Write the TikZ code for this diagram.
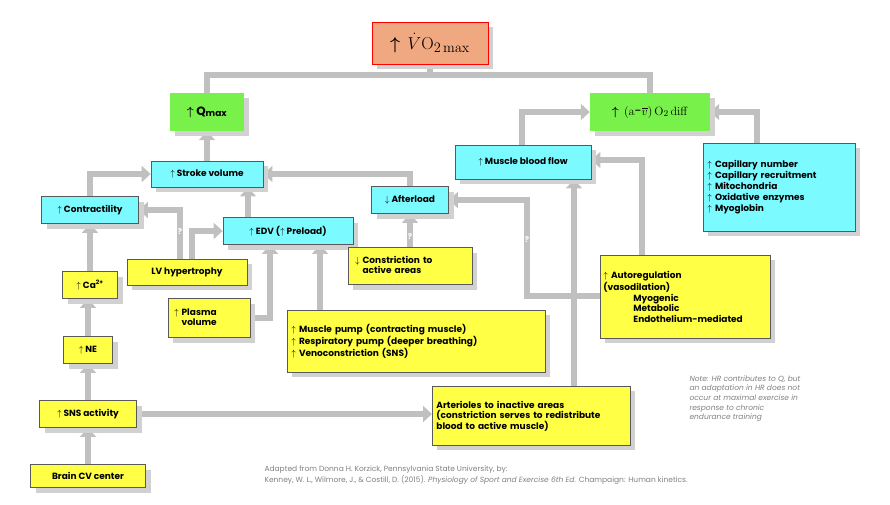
\documentclass[tikz,border=0pt]{standalone}
\usepackage[no-math]{fontspec}
\setmainfont{Poppins}
\usepackage{amsmath,amssymb}
\usetikzlibrary{arrows.meta,shadows,backgrounds}
\definecolor{conn}{HTML}{C0C0C0}
\definecolor{cy}{HTML}{7BFBFF}
\definecolor{yl}{HTML}{FFFF45}
\definecolor{gr}{HTML}{78F24A}
\definecolor{org}{HTML}{F0A880}
\newcommand{\upa}{$\uparrow$}
\newcommand{\dna}{$\downarrow$}
\tikzset{
  box/.style={draw=black!65,line width=0.8pt,inner sep=2pt,font=\bfseries\fontsize{9}{10.5}\selectfont,align=left,
    drop shadow={shadow xshift=5pt,shadow yshift=-5pt,fill=black!18,opacity=1}},
  cyb/.style={box,fill=cy},
  ylb/.style={box,fill=yl},
  grb/.style={fill=gr,inner sep=3pt,drop shadow={shadow xshift=5pt,shadow yshift=-5pt,fill=black!18,opacity=1}},
  con/.style={draw=conn,line width=6pt},
  arr/.style={con,-{Triangle[length=9pt,width=16pt]}},
  q/.style={font=\bfseries\fontsize{8}{8}\selectfont,text=white,inner sep=0pt}
}
\begin{document}
\begin{tikzpicture}[x=1pt,y=-1pt]
\useasboundingbox (0,0) rectangle (890,504);
% nodes
\node[fill=org,draw=red,line width=0.8pt,minimum width=116pt,minimum height=42pt,
  drop shadow={shadow xshift=5pt,shadow yshift=-5pt,fill=black!18,opacity=1}] (vo) at (430,43) {\fontsize{19}{20}\selectfont $\boldsymbol{\uparrow}\,\dot{V}\mathrm{O}_{2\,\mathrm{max}}$};
\node[grb,minimum width=74pt,minimum height=38pt] (q) at (207,112) {\bfseries\fontsize{12}{12}\selectfont $\boldsymbol\uparrow$ Q\textsubscript{\fontsize{9}{9}\selectfont max}};
\node[grb,minimum width=120pt,minimum height=38pt] (av) at (650,112) {\fontsize{13}{13}\selectfont $\boldsymbol\uparrow\,(\mathrm{a}\text{-}\overline{v})\,\mathrm{O}_2\,\mathrm{diff}$};
\node[cyb,minimum width=112pt,minimum height=26pt,align=center] (sv) at (207,174) {\upa\ Stroke volume};
\node[cyb,minimum width=136pt,minimum height=34pt,align=center] (mbf) at (523,162) {\upa\ Muscle blood flow};
\node[cyb,minimum width=152pt,minimum height=88pt,anchor=north west,text width=144pt,font=\bfseries\fontsize{9}{11}\selectfont] (cap) at (703,143) {\upa\ Capillary number\\\upa\ Capillary recruitment\\\upa\ Mitochondria\\\upa\ Oxidative enzymes\\\upa\ Myoglobin};
\node[cyb,minimum width=97pt,minimum height=27pt,align=center] (con) at (90,210) {\upa\ Contractility};
\node[cyb,minimum width=130pt,minimum height=27pt,align=center] (edv) at (288,231) {\upa\ EDV (\upa\ Preload)};
\node[cyb,minimum width=77pt,minimum height=27pt,align=center] (aft) at (410,200) {\dna\ Afterload};
\node[ylb,minimum width=120pt,minimum height=26pt,align=center] (lv) at (187,272) {LV hypertrophy};
\node[ylb,minimum width=124pt,minimum height=37pt,text width=110pt] (cst) at (410,266) {\dna\ Constriction to\\\phantom{\dna\ }active areas};
\node[ylb,minimum width=55pt,minimum height=27pt,align=center] (ca) at (90,285) {\upa\ Ca\textsuperscript{2+}};
\node[ylb,minimum width=82pt,minimum height=39pt,text width=70pt] (pv) at (209,318) {\upa\ Plasma\\\phantom{\upa\ }volume};
\node[ylb,minimum width=170pt,minimum height=83pt,anchor=north west,text width=164pt] (au) at (600,255) {\upa\ Autoregulation\\(vasodilation)\\\hspace*{30pt}Myogenic\\\hspace*{30pt}Metabolic\\\hspace*{30pt}Endothelium-mediated};
\node[ylb,minimum width=258pt,minimum height=62pt,anchor=north west,text width=250pt] (mp) at (287,310) {\upa\ Muscle pump (contracting muscle)\\\upa\ Respiratory pump (deeper breathing)\\\upa\ Venoconstriction (SNS)};
\node[ylb,minimum width=49pt,minimum height=27pt,align=center] (ne) at (88,350) {\upa\ NE};
\node[ylb,minimum width=97pt,minimum height=27pt,align=center] (sns) at (88,414) {\upa\ SNS activity};
\node[ylb,minimum width=198pt,minimum height=59pt,anchor=north west,text width=190pt] (art) at (432,386) {Arterioles to inactive areas\\(constriction serves to redistribute\\blood to active muscle)};
\node[ylb,minimum width=115pt,minimum height=23pt,align=center] (br) at (88,476) {Brain CV center};
\node[anchor=north west,text=black!50,font=\itshape\fontsize{7.5}{9.6}\selectfont,align=left] (note) at (686,372) {Note: HR contributes to Q, but\\an adaptation in HR does not\\occur at maximal exercise in\\response to chronic\\endurance training};
\node[anchor=north west,text=black!50,font=\fontsize{7.5}{11}\selectfont,align=left] (cred) at (261,462) {Adapted from Donna H. Korzick, Pennsylvania State University, by:\\Kenney, W. L., Wilmore, J., \& Costill, D. (2015). \textit{Physiology of Sport and Exercise 6th Ed.} Champaign: Human kinetics.};
% connectors
\begin{scope}[on background layer]
\draw[con] (vo.south) -- (430,75) coordinate (t);
\draw[con] (207,75) -- (650,75);
\draw[con] (207,72) -- (q.north);
\draw[con] (650,72) -- (av.north);
\draw[arr] (sv.north) -- (q.south);
\draw[arr] (con.north) |- (sv.west);
\draw[arr] (edv.north -| 248,0) -- (sv.south -| 248,0);
\draw[arr] (aft.north) |- (sv.east);
\draw[arr] (lv.north -| 180,0) |- (con.east);
\draw[arr] (lv.north -| 192,0) |- (edv.west);
\draw[arr] (ca.north -| con.south) -- (con.south);
\draw[arr] (pv.east) -| (edv.south -| 270,0);
\draw[arr] (mp.north -| 320,0) -- (edv.south -| 320,0);
\draw[arr] (cst.north) -- (aft.south);
\draw[arr] (au.west |- 0,296) -| (527,200) -- (aft.east);
\draw[arr] (au.north -| 642,0) |- (mbf.east |- 0,160);
\draw[arr] (mbf.north -| 522,0) |- (av.west);
\draw[arr] (cap.north -| 757,0) |- (av.east);
\draw[arr] (art.north -| 574,0) -- (mbf.south -| 574,0);
\draw[arr] (sns.east) -- (art.west |- sns.east);
\draw[arr] (ne.north) -- (ca.south -| ne.north);
\draw[arr] (sns.north) -- (ne.south);
\draw[arr] (br.north) -- (sns.south);
\end{scope}
\node[q] (q1) at (180,232) {?};
\node[q] (q2) at (410,237) {?};
\node[q] (q3) at (527,240) {?};
\end{tikzpicture}
\end{document}
